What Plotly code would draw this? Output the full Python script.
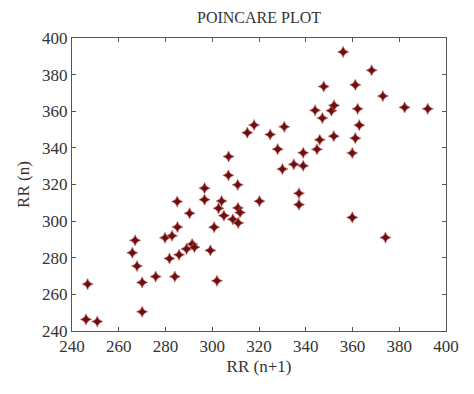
import plotly.graph_objects as go

rr_n1 = [246, 250.8, 246.7, 270, 270, 267.8, 265.8, 267, 275.8, 284,
         281.7, 285.8, 289, 291.4, 292.4, 279.8, 282.8, 285.1, 285, 290.3,
         299.2, 302, 300.8, 296.7, 296.7, 304, 302.7, 311, 311.9, 305,
         308.8, 311.1, 306.9, 310.9, 307, 315, 317.9, 320.2, 324.8, 330.8,
         328, 330, 334.9, 338.9, 338.9, 337.1, 337.1, 344.8, 346, 352,
         344, 347.1, 351, 352.1, 347.7, 356, 361.2, 362.2, 362.9, 361.2,
         359.9, 359.9, 368.2, 373, 374.1, 382.3, 392.2]
rr_n = [246.3, 245.2, 265.6, 250.5, 266.5, 275.5, 282.7, 289.5, 269.7, 269.7,
        279.6, 281.6, 284.8, 287.5, 285.8, 290.9, 292, 296.8, 310.7, 304.3,
        284, 267.4, 296.7, 318, 311.7, 311, 307, 307.2, 304.7, 303,
        301, 299, 325, 319.8, 335.3, 348.3, 352.5, 310.9, 347.3, 351.5,
        339.3, 328.4, 331, 330.2, 337.3, 315.2, 309, 339.2, 344.4, 346.4,
        360.5, 356.3, 360.3, 363.2, 373.5, 392.4, 374.4, 361.3, 352.4, 345.3,
        337.2, 302, 382.4, 368.3, 291, 362.1, 361.3]

x_ticks = [240, 260, 280, 300, 320, 340, 360, 380, 400]
y_ticks = [240, 260, 280, 300, 320, 340, 360, 380, 400]

font_family = "Liberation Serif"

fig = go.Figure()
fig.add_trace(go.Scatter(
    x=rr_n1, y=rr_n, mode="markers",
    marker=dict(symbol="star-diamond", size=8, color="#6e0f0f",
                line=dict(color="#c06060", width=0.6)),
    showlegend=False,
))

axis_common = dict(
    showgrid=False, zeroline=False, showline=True, linecolor="#555555",
    linewidth=1, mirror="ticks", ticks="inside", ticklen=4,
    tickcolor="#555555", tickfont=dict(family=font_family, size=17, color="#333333"),
)

fig.update_layout(
    width=474, height=394,
    margin=dict(l=72, r=28, t=38, b=63),
    paper_bgcolor="white", plot_bgcolor="white",
    title=dict(text="POINCARE PLOT", x=0.5465, xanchor="center", y=0.955, yanchor="middle",
               font=dict(family=font_family, size=16, color="#333333")),
    xaxis=dict(range=[240, 400], tickvals=x_ticks,
               title=dict(text="RR (n+1)", font=dict(family=font_family, size=17, color="#333333"),
                          standoff=4),
               **axis_common),
    yaxis=dict(range=[240, 400], tickvals=y_ticks,
               title=dict(text="RR (n)", font=dict(family=font_family, size=17, color="#333333"),
                          standoff=8),
               **axis_common),
)

fig.write_html("out.html")
